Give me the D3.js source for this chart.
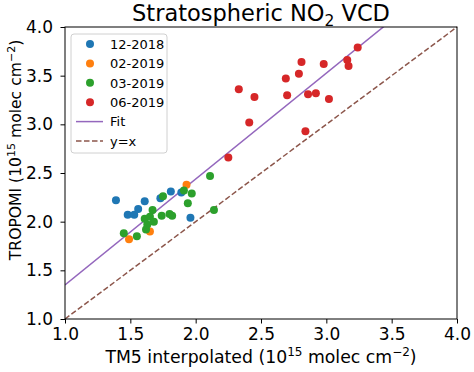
<!DOCTYPE html>
<html>
<head>
<meta charset="utf-8">
<script src="https://cdn.jsdelivr.net/npm/d3@7"></script>
<style>
  body { margin: 0; background: #fff; }
  text { font-family: "DejaVu Sans", sans-serif; fill: #000; }
</style>
</head>
<body>
<div id="chart"></div>
<script>
// values
const dec2018 = [[1.39,2.22],[1.48,2.07],[1.53,2.07],[1.56,2.13],[1.61,2.21],[1.73,2.24],[1.81,2.31],[1.89,2.30],[1.96,2.04]];
const feb2019 = [[1.93,2.38],[1.49,1.82],[1.65,1.90]];
const mar2019 = [[1.45,1.88],[1.55,1.85],[1.61,2.03],[1.65,2.05],[1.67,2.12],[1.68,2.00],[1.62,1.92],[1.63,1.97],[1.74,2.06],[1.80,2.08],[1.82,2.06],[1.75,2.26],[1.91,2.32],[1.97,2.29],[1.94,2.19],[2.11,2.47],[2.14,2.12]];
const jun2019 = [[3.24,3.79],[3.16,3.66],[3.17,3.60],[2.81,3.64],[2.98,3.62],[2.79,3.52],[2.69,3.47],[2.33,3.36],[2.45,3.28],[2.70,3.30],[2.86,3.31],[2.92,3.32],[3.02,3.26],[2.41,3.02],[2.84,2.93],[2.25,2.66]];
const seriesNames = ["12-2018", "02-2019", "03-2019", "06-2019"];
const fitSlope = 1.088, fitIntercept = 0.262;
const ticks = [1.0, 1.5, 2.0, 2.5, 3.0, 3.5, 4.0];

const colors = ["#1f77b4", "#ff7f0e", "#2ca02c", "#d62728"];
const series = [dec2018, feb2019, mar2019, jun2019];

const width = 474, height = 372;
const mLeft = 65, mRight = 457, mTop = 27, mBottom = 319;

const svg = d3.select("#chart").append("svg")
  .attr("width", width)
  .attr("height", height);

const x = d3.scaleLinear().domain([1, 4]).range([mLeft, mRight]);
const y = d3.scaleLinear().domain([1, 4]).range([mBottom, mTop]);

// lines first, clipped to plot area
svg.append("clipPath").attr("id", "clip")
  .append("rect").attr("x", mLeft).attr("y", mTop)
  .attr("width", mRight - mLeft).attr("height", mBottom - mTop);

svg.append("line")
  .attr("clip-path", "url(#clip)")
  .attr("x1", x(1)).attr("y1", y(fitSlope * 1 + fitIntercept))
  .attr("x2", x(4)).attr("y2", y(fitSlope * 4 + fitIntercept))
  .attr("stroke", "#9467bd").attr("stroke-width", 1.5);

svg.append("line")
  .attr("x1", x(1)).attr("y1", y(1))
  .attr("x2", x(4)).attr("y2", y(4))
  .attr("stroke", "#8c564b").attr("stroke-width", 1.5)
  .attr("stroke-dasharray", "5.5,2.5");

series.forEach((pts, i) => {
  svg.append("g").selectAll("circle")
    .data(pts)
    .join("circle")
    .attr("cx", d => x(d[0]))
    .attr("cy", d => y(d[1]))
    .attr("r", 4)
    .attr("fill", colors[i]);
});

// axes
const xAxis = svg.append("g")
  .attr("transform", `translate(0,${mBottom})`)
  .call(d3.axisBottom(x).tickValues(ticks).tickFormat(d3.format(".1f")).tickSize(4.5).tickPadding(4.5));
const yAxis = svg.append("g")
  .attr("transform", `translate(${mLeft},0)`)
  .call(d3.axisLeft(y).tickValues(ticks).tickFormat(d3.format(".1f")).tickSize(4.5).tickPadding(7.5));
[xAxis, yAxis].forEach(a => {
  a.selectAll("text").attr("font-size", 17).attr("font-family", "DejaVu Sans");
  a.selectAll(".tick line").attr("stroke", "#000");
  a.select(".domain").remove();
});

svg.append("rect")
  .attr("x", mLeft).attr("y", mTop)
  .attr("width", mRight - mLeft).attr("height", mBottom - mTop)
  .attr("fill", "none").attr("stroke", "#000").attr("stroke-width", 1);

// title
const title = svg.append("text")
  .attr("x", (mLeft + mRight) / 2).attr("y", 21)
  .attr("text-anchor", "middle").attr("font-size", 22.5);
title.append("tspan").text("Stratospheric NO");
title.append("tspan").attr("font-size", 15.5).attr("dy", 4.5).text("2");
title.append("tspan").attr("dy", -4.5).text(" VCD");

// x label
const xl = svg.append("text")
  .attr("x", (mLeft + mRight) / 2).attr("y", 363)
  .attr("text-anchor", "middle").attr("font-size", 17.3);
xl.append("tspan").text("TM5 interpolated (10");
xl.append("tspan").attr("font-size", 12).attr("dy", -7).text("15");
xl.append("tspan").attr("dy", 7).text(" molec cm");
xl.append("tspan").attr("font-size", 12).attr("dy", -7).text("\u22122");
xl.append("tspan").attr("dy", 7).text(")");

// y label
const yl = svg.append("text")
  .attr("transform", "translate(21,150) rotate(-90)")
  .attr("text-anchor", "middle").attr("font-size", 15.6);
yl.append("tspan").text("TROPOMI (10");
yl.append("tspan").attr("font-size", 11).attr("dy", -6.5).text("15");
yl.append("tspan").attr("dy", 6.5).text(" molec cm");
yl.append("tspan").attr("font-size", 11).attr("dy", -6.5).text("\u22122");
yl.append("tspan").attr("dy", 6.5).text(")");

// legend
const lg = svg.append("g");
lg.append("rect")
  .attr("x", 71).attr("y", 34).attr("width", 96).attr("height", 119)
  .attr("rx", 3).attr("fill", "#fff").attr("fill-opacity", 0.8)
  .attr("stroke", "#d0d0d0");
const rowY = i => 44 + i * 19.4;
seriesNames.forEach((name, i) => {
  lg.append("circle").attr("cx", 90).attr("cy", rowY(i)).attr("r", 4).attr("fill", colors[i]);
  lg.append("text").attr("x", 110).attr("y", rowY(i) + 4.8).attr("font-size", 13).text(name);
});
lg.append("line").attr("x1", 76).attr("x2", 103).attr("y1", rowY(4)).attr("y2", rowY(4))
  .attr("stroke", "#9467bd").attr("stroke-width", 1.5);
lg.append("text").attr("x", 110).attr("y", rowY(4) + 4.8).attr("font-size", 13).text("Fit");
lg.append("line").attr("x1", 76).attr("x2", 103).attr("y1", rowY(5)).attr("y2", rowY(5))
  .attr("stroke", "#8c564b").attr("stroke-width", 1.5).attr("stroke-dasharray", "5.5,2.5");
lg.append("text").attr("x", 110).attr("y", rowY(5) + 4.8).attr("font-size", 13).text("y=x");
</script>
</body>
</html>
